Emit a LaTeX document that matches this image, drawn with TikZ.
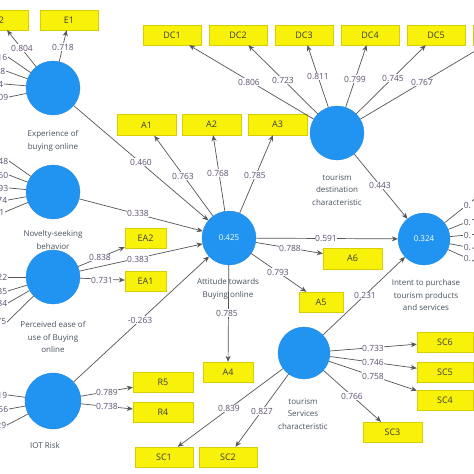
\documentclass[tikz,border=0pt]{standalone}
\usepackage{fontspec}
\setmainfont{Open Sans}
\usetikzlibrary{arrows.meta}
\definecolor{lv}{RGB}{33,148,242}
\definecolor{ind}{RGB}{248,242,10}
\definecolor{indedge}{RGB}{215,205,0}
\definecolor{edge}{RGB}{85,85,85}
\definecolor{coef}{RGB}{95,80,115}
\definecolor{lbl}{RGB}{70,82,95}
\definecolor{boxtext}{RGB}{60,60,60}
\tikzset{
 lvar/.style={circle, fill=lv, draw=lv!90!black, line width=0.3pt, minimum size=54pt, inner sep=0pt, text=white, font=\fontsize{8}{9}\selectfont},
 indic/.style={rectangle, fill=ind, draw=indedge, line width=0.4pt, minimum width=58pt, minimum height=20pt, inner sep=0pt, text=boxtext, font=\fontsize{9}{10}\selectfont},
 coefl/.style={fill=white, inner sep=0.6pt, text=coef, font=\fontsize{8.5}{9}\selectfont},
 frag/.style={inner sep=0.6pt, text=coef, font=\fontsize{8.5}{9}\selectfont},
 lvlabel/.style={align=center, text=lbl, inner sep=0pt, font=\fontsize{8}{12.5}\selectfont},
 conn/.style={draw=edge, line width=0.7pt},
 arr/.style={conn, -{Stealth[length=6pt,width=5pt]}},
}
\begin{document}
\begin{tikzpicture}[x=1pt,y=-1pt]
\useasboundingbox (0,0) rectangle (474,474);
\clip (0,0) rectangle (474,474);
\fill[white] (0,0) rectangle (474,474);

% latent variables
\node[lvar] (exp) at (53,88) {};
\node[lvar] (nov) at (53,192) {};
\node[lvar] (pe) at (53,277) {};
\node[lvar, minimum size=56pt] (iot) at (53,401) {};
\node[lvar] (att) at (229,238) {0.425};
\node[lvar] (dest) at (337,133) {};
\node[lvar, minimum size=52pt] (intent) at (424,239) {0.324};
\node[lvar, minimum size=52pt] (serv) at (304,353) {};

% latent labels
\node[lvlabel] (lexp) at (53,141) {Experience of\\buying online};
\node[lvlabel] (lnov) at (53,240) {Novelty-seeking\\behavior};
\node[lvlabel] (lpe) at (53,337) {Perceived ease of\\use of Buying\\online};
\node[lvlabel] (liot) at (45,445) {IOT Risk};
\node[lvlabel] (latt) at (228,289) {Attitude towards\\Buying online};
\node[lvlabel] (ldest) at (337,190) {tourism\\destination\\characteristic};
\node[lvlabel] (lint) at (426,295) {Intent to purchase\\tourism products\\and services};
\node[lvlabel] (lserv) at (303,414) {tourism\\Services\\characteristic};

% indicators
\node[indic] (E2) at (-1,20) {E2};
\node[indic] (E1) at (69,20) {E1};
\node[indic, minimum width=59pt, minimum height=21pt] (A1) at (146.5,125) {A1};
\node[indic, minimum width=59pt, minimum height=21pt] (A2) at (211.5,124.5) {A2};
\node[indic, minimum width=59pt, minimum height=21pt] (A3) at (277.5,124.5) {A3};
\node[indic] (DC1) at (172,35) {DC1};
\node[indic] (DC2) at (238,35) {DC2};
\node[indic] (DC3) at (304,35) {DC3};
\node[indic] (DC4) at (370,35) {DC4};
\node[indic] (DC5) at (436,35) {DC5};
\node[indic] (DC6) at (502,35) {DC6};
\node[indic, minimum width=41pt] (EA2) at (145.5,238.5) {EA2};
\node[indic, minimum width=41pt] (EA1) at (145.5,281) {EA1};
\node[indic, minimum width=59pt, minimum height=21pt] (A6) at (352.5,258.5) {A6};
\node[indic, minimum width=44pt] (A5) at (321,302) {A5};
\node[indic, minimum width=50pt] (A4) at (228,372) {A4};
\node[indic, minimum width=60pt] (R5) at (163,382) {R5};
\node[indic, minimum width=60pt] (R4) at (163,412) {R4};
\node[indic] (SC1) at (164,457) {SC1};
\node[indic] (SC2) at (228,457) {SC2};
\node[indic, minimum width=59pt] (SC3) at (392.5,432) {SC3};
\node[indic, minimum width=56pt] (SC6) at (445,342) {SC6};
\node[indic, minimum width=56pt] (SC5) at (445,372) {SC5};
\node[indic, minimum width=56pt] (SC4) at (445,400) {SC4};

% partial loadings at the left edge
\node[frag, anchor=east] (f1) at (8,57) {16};
\node[frag, anchor=east] (f2) at (6,71) {8};
\node[frag, anchor=east] (f3) at (4,84) {4};
\node[frag, anchor=east] (f4) at (9,97) {09};
\node[frag, anchor=east] (f5) at (9,161) {48};
\node[frag, anchor=east] (f6) at (9,175) {60};
\node[frag, anchor=east] (f7) at (9,188) {93};
\node[frag, anchor=east] (f8) at (8,200) {74};
\node[frag, anchor=east] (f9) at (5,212) {1};
\node[frag, anchor=east] (f10) at (8,277) {22};
\node[frag, anchor=east] (f11) at (8,291) {85};
\node[frag, anchor=east] (f12) at (8,303) {84};
\node[frag, anchor=east] (f13) at (7,322) {75};
\node[frag, anchor=east] (f14) at (8,395) {19};
\node[frag, anchor=east] (f15) at (9,409) {56};
\node[frag, anchor=east] (f16) at (7,425) {29};
\foreach \f in {f1,f2,f3,f4}{\draw[conn] (exp) -- (\f.east);}
\foreach \f in {f5,f6,f7,f8,f9}{\draw[conn] (nov) -- (\f.east);}
\foreach \f in {f10,f11,f12,f13}{\draw[conn] (pe) -- (\f.east);}
\foreach \f in {f14,f15,f16}{\draw[conn] (iot) -- (\f.east);}

% off-canvas indicators of the intent construct
\coordinate (o1) at (510,171);
\coordinate (o2) at (510,205);
\coordinate (o3) at (510,231);
\coordinate (o4) at (510,255);
\coordinate (o5) at (510,277);
\foreach \o in {o1,o2,o3,o4,o5}{\draw[arr] (intent) -- (\o);}

% connectors
\draw[arr] (exp) -- (E2);
\draw[arr] (exp) -- (E1);
\draw[arr] (exp) -- (att);
\draw[arr] (nov) -- (att);
\draw[arr] (pe) -- (att);
\draw[arr] (iot) -- (att);
\draw[arr] (pe) -- (EA2);
\draw[arr] (pe) -- (EA1);
\draw[arr] (iot) -- (R5);
\draw[arr] (iot) -- (R4);
\draw[arr] (att) -- (A1);
\draw[arr] (att) -- (A2);
\draw[arr] (att) -- (A3);
\draw[arr] (att) -- (A6);
\draw[arr] (att) -- (A5);
\draw[arr] (att) -- (A4);
\draw[arr] (att) -- (intent);
\draw[arr] (dest) -- (intent);
\draw[arr] (serv) -- (intent);
\foreach \d in {DC1,DC2,DC3,DC4,DC5,DC6}{\draw[arr] (dest) -- (\d);}
\foreach \s in {SC1,SC2,SC3,SC4,SC5,SC6}{\draw[arr] (serv) -- (\s);}

% coefficient labels
\node[coefl] (c1) at (22,48) {0.804};
\node[coefl] (c2) at (63,47) {0.718};
\node[coefl] (c3) at (141,162) {0.460};
\node[coefl] (c4) at (138,213) {0.338};
\node[coefl] (c5) at (100,257.5) {0.838};
\node[coefl] (c6) at (138,259) {0.383};
\node[coefl] (c7) at (102,280) {0.731};
\node[coefl] (c8) at (140,320) {-0.263};
\node[coefl] (c9) at (107,392) {0.789};
\node[coefl] (c10) at (107,406.5) {0.738};
\node[coefl] (c11) at (183,176) {0.763};
\node[coefl] (c12) at (218,173) {0.768};
\node[coefl] (c13) at (255,175) {0.785};
\node[coefl] (c14) at (290,248) {0.788};
\node[coefl] (c15) at (326,238) {0.591};
\node[coefl] (c16) at (278,272) {0.793};
\node[coefl] (c17) at (227,313) {0.785};
\node[coefl] (c18) at (380,185.5) {0.443};
\node[coefl] (c19) at (365,295.5) {0.231};
\node[coefl] (c20) at (249,82) {0.806};
\node[coefl] (c21) at (283,80) {0.723};
\node[coefl] (c22) at (318,76.5) {0.811};
\node[coefl] (c23) at (355,79) {0.799};
\node[coefl] (c24) at (393,78) {0.745};
\node[coefl] (c25) at (422,82.5) {0.767};
\node[coefl] (c26) at (373,348) {0.733};
\node[coefl] (c27) at (373,362) {0.746};
\node[coefl] (c28) at (373,376) {0.758};
\node[coefl] (c29) at (352,396) {0.766};
\node[coefl] (c30) at (229,408.5) {0.839};
\node[coefl] (c31) at (262,411) {0.827};
\node[coefl, anchor=west] (c32) at (463,205) {0.};
\node[coefl, anchor=west] (c33) at (463,222) {0.};
\node[coefl, anchor=west] (c34) at (463,235) {0.};
\node[coefl, anchor=west] (c35) at (463,247) {0.};
\node[coefl, anchor=west] (c36) at (463,258) {0.};
\end{tikzpicture}
\end{document}
